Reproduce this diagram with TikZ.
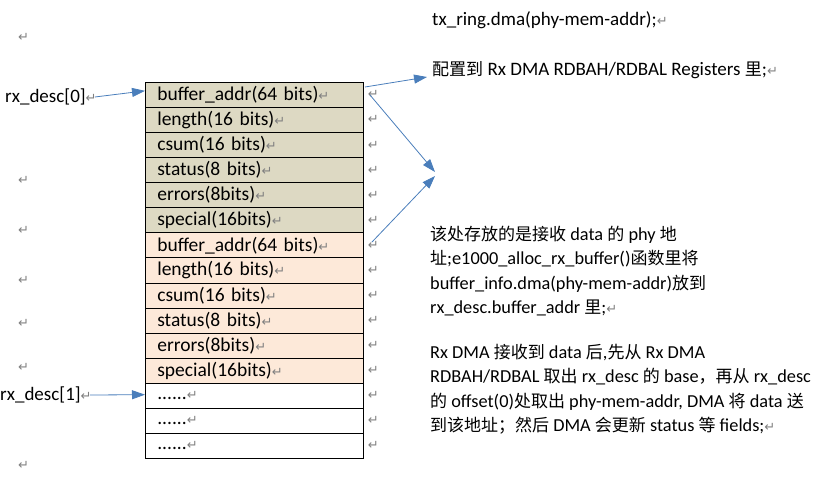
\documentclass[tikz,border=0pt]{standalone}
\usepackage{fontspec}
\setmainfont{Carlito}
\newfontfamily\cjk{Noto Sans CJK SC}
\newfontfamily\dv{DejaVu Sans}
\usetikzlibrary{arrows.meta}
\definecolor{topfill}{HTML}{DDD9C3}
\definecolor{botfill}{HTML}{FDE9D9}
\definecolor{arr}{HTML}{4A7EBB}
\newcommand{\rt}{{\dv\color{gray}\fontsize{13}{13}\selectfont ↵}}
\newcommand{\zh}[1]{{\cjk\fontsize{17}{17}\selectfont #1}}
\begin{document}
\begin{tikzpicture}[x=1pt,y=-1pt,
  fld/.style={draw=black,line width=0.6pt,minimum width=218pt,minimum height=25.07pt,text width=194pt,align=left,inner sep=0pt,anchor=north west,font=\fontsize{19.5}{19.5}\selectfont},
  lbl/.style={inner sep=0pt,anchor=west,font=\fontsize{19}{19}\selectfont},
  rtn/.style={inner sep=0pt,anchor=west},
  con/.style={draw=arr,line width=0.8pt,-{Triangle[length=13pt,width=9pt]}},
  par/.style={inner sep=0pt,anchor=north west,align=left,font=\fontsize{18.3}{24.4}\selectfont}]
\useasboundingbox (0,0) rectangle (826,477);
\foreach \t [count=\i] in {buffer\_addr(64 bits),length(16 bits),csum(16 bits),status(8 bits),errors(8bits),special(16bits)}
  \node[fld,fill=topfill] (r\i) at (145,{82+(\i-1)*25.07}) {\t\rt};
\foreach \t [count=\i from 7] in {buffer\_addr(64 bits),length(16 bits),csum(16 bits),status(8 bits),errors(8bits),special(16bits)}
  \node[fld,fill=botfill] (r\i) at (145,{82+(\i-1)*25.07}) {\t\rt};
\foreach \i in {13,14,15}
  \node[fld,fill=white] (r\i) at (145,{82+(\i-1)*25.07}) {......\rt};
\foreach \i in {1,...,15} \node[rtn] (m\i) at ([xshift=4pt]r\i.east) {\rt};
\foreach \y [count=\i] in {37,180,230,280,323,367,465} \node[rtn] (lm\i) at (18,\y) {\rt};
\node[lbl] (d0) at (5,97) {rx\_desc[0]\rt};
\node[lbl] (d1) at (0,395) {rx\_desc[1]\rt};
\node[lbl] (t1) at (432,20) {tx\_ring.dma(phy-mem-addr);\rt};
\node[lbl] (t2) at (432,70) {\zh{配置到} Rx DMA RDBAH/RDBAL Registers \zh{里};\rt};
\node[par] (p1) at (430,226) {\zh{该处存放的是接收} data \zh{的} phy \zh{地}\\
\zh{址};e1000\_alloc\_rx\_buffer()\zh{函数里将}\\
buffer\_info.dma(phy-mem-addr)\zh{放到}\\
rx\_desc.buffer\_addr \zh{里};\rt};
\node[par] (p2) at (430,344) {Rx DMA \zh{接收到} data \zh{后},\zh{先从} Rx DMA\\
RDBAH/RDBAL \zh{取出} rx\_desc \zh{的} base\zh{，再从} rx\_desc\\
\zh{的} offset(0)\zh{处取出} phy-mem-addr, DMA \zh{将} data \zh{送}\\
\zh{到该地址；然后} DMA \zh{会更新} status \zh{等} fields;\rt};
\coordinate (tgt) at (435,172);
\draw[con] ([xshift=-2pt]d0.east) -- ([yshift=4pt]r1.west);
\draw[con] ([xshift=-2pt]d1.east) -- ([yshift=1pt]r13.west);
\draw[con] (365,87) -- (427,77);
\draw[con] (370,95) -- (tgt);
\draw[con] (372,242) -- ([yshift=-4pt]tgt);
\end{tikzpicture}
\end{document}
